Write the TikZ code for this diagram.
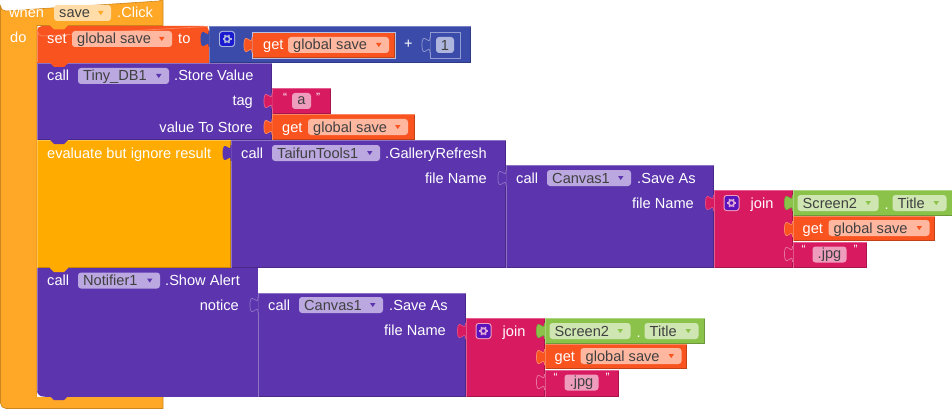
\documentclass[tikz,border=0pt]{standalone}
\usepackage{fontspec}
\setmainfont{Liberation Sans}
\definecolor{evt}{HTML}{FFA726}
\definecolor{amb}{HTML}{FFAB00}
\definecolor{pur}{HTML}{5C35AE}
\definecolor{pnk}{HTML}{D81B60}
\definecolor{org}{HTML}{F9541F}
\definecolor{blu}{HTML}{3B4BAA}
\definecolor{grn}{HTML}{8BC34A}
\definecolor{fevt}{HTML}{FFDCA8}
\definecolor{fpur}{HTML}{BBA8E0}
\definecolor{fpnk}{HTML}{EE9DBD}
\definecolor{forg}{HTML}{FFB7A0}
\definecolor{fblu}{HTML}{AEB6DD}
\definecolor{fgrn}{HTML}{CFE6B2}
\definecolor{icob}{HTML}{1A1AD0}
\definecolor{icop}{HTML}{5A12BC}
\definecolor{gearp}{HTML}{E0A8D8}
\newcounter{nid}
\tikzset{
  lbl/.style={inner sep=0pt,text=white,font=\fontsize{14.6}{16}\selectfont},
  fldtxt/.style={inner sep=0pt,text=black!75,font=\fontsize{14.6}{16}\selectfont},
}
\newcommand{\blk}[5]{%
  \fill[#5] (#1,#2) rectangle (#3,#4);
  \draw[#5!78!black,line width=.8pt] (#3-.4,#2) -- (#3-.4,#4-.4) -- (#1,#4-.4);
  \draw[#5!70!white,line width=.8pt] (#1+.4,#4) -- (#1+.4,#2+.4) -- (#3,#2+.4);
}
\newcommand{\tl}[3]{\stepcounter{nid}\node[lbl,anchor=base west] (n\thenid) at (#1,#2+5) {#3};}
\newcommand{\tr}[3]{\stepcounter{nid}\node[lbl,anchor=base east] (n\thenid) at (#1,#2+5) {#3};}
\newcommand{\fld}[6]{%
  \fill[#4,rounded corners=3pt] (#1,#3-8) rectangle (#2,#3+8);
  \stepcounter{nid}\node[fldtxt,anchor=base west] (n\thenid) at (#1+5,#3+5) {#6};
  \fill[#5] (#2-13,#3-2) -- (#2-7.5,#3-2) -- (#2-10.25,#3+2) -- cycle;
}
\newcommand{\fln}[5]{%
  \fill[#4,rounded corners=3pt] (#1,#3-8) rectangle (#2,#3+8);
  \stepcounter{nid}\node[fldtxt] (n\thenid) at ({(#1+#2)/2},#3) {#5};
}
\newcommand{\tabb}[4]{%
  \filldraw[fill=#3,draw=#4,line width=.7pt] (#1+.5,#2-7.5) -- (#1,#2-7.5)
    .. controls (#1,#2+2.5) and (#1-8,#2-15.5) .. (#1-8,#2)
    .. controls (#1-8,#2+15.5) and (#1,#2-2.5) .. (#1,#2+7.5) -- (#1+.5,#2+7.5);
}
\newcommand{\notch}[3]{%
  \fill[#3] (#1+13,#2-1) -- (#1+13,#2) -- (#1+17,#2+4) -- (#1+27,#2+4) -- (#1+31,#2) -- (#1+31,#2-1) -- cycle;
}
\newcommand{\gear}[5]{% x y fill frame gearcolour
  \fill[#4,rounded corners=3pt] (#1,#2) rectangle (#1+16,#2+16);
  \fill[#3,rounded corners=2.5pt] (#1+1,#2+1) rectangle (#1+15,#2+15);
  \draw[#5,line width=1.6pt] (#1+8,#2+8) circle (2.8);
  \foreach \a in {0,60,...,300}
    \draw[#5,line width=1.6pt] (#1+8,#2+8) ++(\a:3) -- ++(\a:1.5);
}
\newcommand{\qt}[3]{\stepcounter{nid}\node[lbl,font=\fontsize{12}{12}\selectfont] (n\thenid) at (#1,#2) {#3};}
\newcommand{\joingroup}[3]{%
  \blk{#1}{#2}{#1+79}{#3}{pnk}
  \tabb{#1}{#2+13}{pnk}{pnk!80!white}
  \gear{#1+10}{#2+5}{icop}{fpnk}{gearp}
  \tl{#1+37}{#2+13}{join}
  \blk{#1+79}{#2}{#1+239}{#2+25.5}{grn}
  \tabb{#1+79}{#2+13}{grn}{grn!85!black}
  \fld{#1+84}{#1+165}{#2+13}{fgrn}{grn}{Screen2}
  \tl{#1+171}{#2+14}{.}
  \fld{#1+179}{#1+233}{#2+13}{fgrn}{grn}{Title}
  \blk{#1+79}{#2+26}{#1+221}{#2+51}{org}
  \tabb{#1+79}{#2+39}{org}{org!70!white}
  \tl{#1+89}{#2+38}{get}
  \fld{#1+115}{#1+216}{#2+38}{forg}{org}{global save}
  \blk{#1+79}{#2+52}{#1+153.5}{#3}{pnk}
  \tabb{#1+79}{#2+64}{pnk}{pnk!60!white}
  \qt{#1+90}{#2+59}{“}
  \fln{#1+99}{#1+133}{#2+64.5}{fpnk}{.jpg}
  \qt{#1+142}{#2+59}{”}
}
\begin{document}
\begin{tikzpicture}[x=1pt,y=-1pt]
\useasboundingbox (0,0) rectangle (952,409);
\fill[white] (0,0) rectangle (952,409);
\filldraw[fill=evt,draw=evt!80!black,line width=.6pt]
  (.5,6) arc[start angle=180,end angle=90,radius=5] -- (159,1) arc[start angle=90,end angle=0,radius=4] -- (163,25.5)
  -- (37,25.5) -- (37,396.5) -- (163,396.5) -- (163,408.5) -- (6,408.5)
  arc[start angle=90,end angle=180,radius=5.5] -- cycle;
\tl{9}{13}{when}
\fld{54}{111}{13}{fevt}{evt}{save}
\tl{117}{13}{.Click}
\tl{10}{38}{do}
\fill[org,rounded corners=5pt] (37,26) -- (37,63) -- (209,63) -- (209,26) -- cycle;
\fill[org] (37,40) rectangle (209,63);
\draw[org!70!white,line width=.7pt] (37.4,62) -- (37.4,31) arc[start angle=180,end angle=90,radius=5] -- (208,26.4);
\notch{37}{25.5}{evt}
\tl{47}{39}{set}
\fld{72}{172}{39}{forg}{org}{global save}
\tl{178}{39}{to}
\blk{209}{26}{471}{63}{blu}
\tabb{209}{39}{blu}{blu}
\gear{219}{31}{icob}{fblu}{fblu}
\blk{252}{32}{395}{58}{org}
\draw[blu!35!white,line width=.6pt] (252,32) rectangle (395,58);
\tabb{252}{45}{org}{org!70!white}
\tl{263}{45}{get}
\fld{288}{389}{45}{forg}{org}{global save}
\tl{404}{44}{+}
\draw[blu!55!white,line width=.7pt] (430.5,32) rectangle (460,58);
\tabb{430}{45}{blu}{blu!55!white}
\fln{436}{454}{45}{fblu}{1}
\blk{37}{63}{272}{140}{pur}
\notch{37}{63}{org}
\tl{47}{76}{call}
\fld{78}{169}{76}{fpur}{pur}{Tiny\_DB1}
\tl{174}{76}{.Store Value}
\tr{253}{101}{tag}
\blk{272}{88}{331}{114}{pnk}
\tabb{272}{101}{pnk}{pnk!70!white}
\qt{285}{97}{“}
\fln{292}{311}{101}{fpnk}{a}
\qt{318}{97}{”}
\tr{253}{127}{value To Store}
\blk{272}{114}{415}{140}{org}
\tabb{272}{127}{org}{org!70!white}
\tl{282}{127}{get}
\fld{308}{408}{127}{forg}{org}{global save}
\blk{37}{140}{231}{268}{amb}
\notch{37}{140}{pur}
\tl{47}{153}{evaluate but ignore result}
\blk{231}{140}{506}{268}{pur}
\tabb{231}{153}{pur}{pur}
\tl{241}{153}{call}
\fld{272}{380}{153}{fpur}{pur}{TaifunTools1}
\tl{385}{153}{.GalleryRefresh}
\tr{487}{178}{file Name}
\blk{506}{165}{713.5}{268}{pur}
\tabb{506}{178}{pur}{pur!70!white}
\tl{516}{178}{call}
\fld{547}{631}{178}{fpur}{pur}{Canvas1}
\tl{637}{178}{.Save As}
\tr{694}{203}{file Name}
\joingroup{713.5}{190}{268}
\fill[white] (37,388) rectangle (46,397);
\fill[pur,rounded corners=6pt] (37,380) -- (37,396.5) -- (60,396.5) -- (60,380) -- cycle;
\fill[pur] (37,268) rectangle (258,386);
\fill[pur] (45,380) rectangle (258,396.5);
\draw[pur!70!white,line width=.7pt] (37.4,268) -- (37.4,391);
\notch{37}{268}{amb}
\notch{37}{396}{pur}
\tl{47}{280}{call}
\fld{78}{160}{280.5}{fpur}{pur}{Notifier1}
\tl{165}{280}{.Show Alert}
\tr{239}{305}{notice}
\blk{258}{293}{465.5}{396.5}{pur}
\tabb{258}{305}{pur}{pur!70!white}
\tl{268}{305}{call}
\fld{299}{383}{305}{fpur}{pur}{Canvas1}
\tl{389}{305}{.Save As}
\tr{446}{330}{file Name}
\joingroup{465.5}{318}{396.5}
\end{tikzpicture}
\end{document}
